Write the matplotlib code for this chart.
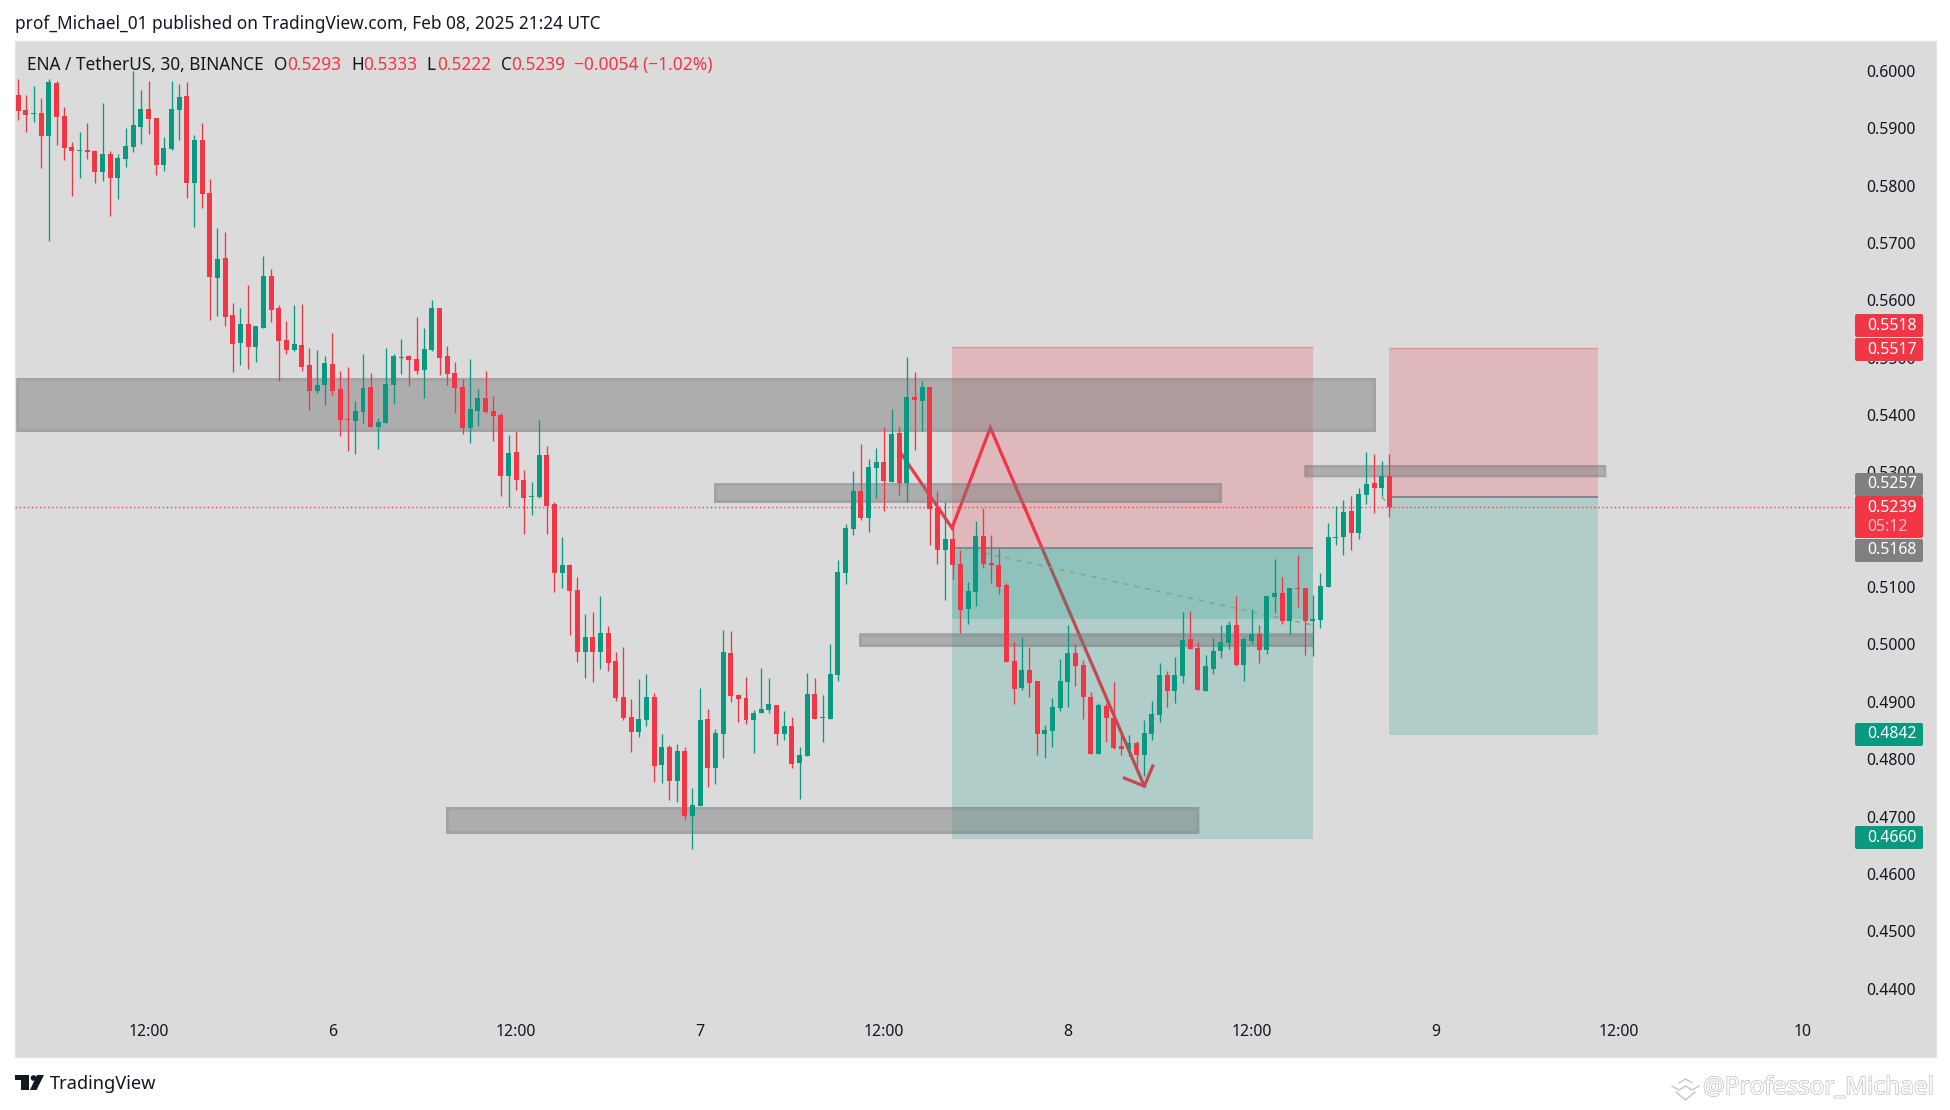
import numpy as np
import matplotlib
matplotlib.use('Agg')
import matplotlib.pyplot as plt
import matplotlib.patheffects as pe
from matplotlib.patches import Rectangle, FancyBboxPatch, Polygon, Circle
from matplotlib.transforms import Affine2D

plt.rcParams['font.family'] = ['Noto Sans', 'DejaVu Sans']

#------------------------------------------------------------------------------
# ENA/USDT 30 min candles (in units of 0.0001)
#------------------------------------------------------------------------------

opens = [5958,5932,5925,5927,5887,5979,5922,5867,5861,5862,5861,5824,5855,5813,5847,5867,5902,5934,5918,5836,
         5864,5932,5956,5805,5880,5787,5639,5674,5575,5526,5559,5519,5552,5643,5587,5531,5514,5522,5487,5442,
         5453,5489,5446,5393,5390,5405,5449,5379,5386,5453,5500,5503,5498,5479,5514,5587,5503,5473,5449,5378,
         5407,5430,5407,5400,5294,5336,5287,5257,5257,5330,5245,5125,5139,5095,4987,5013,4987,5020,4971,4908,
         4874,4847,4868,4908,4790,4821,4762,4814,4701,4718,4870,4785,4844,4985,4912,4907,4868,4880,4886,4894,
         4844,4858,4793,4806,4914,4872,4870,4947,5125,5201,5268,5221,5308,5318,5283,5369,5282,5432,5425,5449,
         5238,5165,5184,5140,5062,5091,5189,5142,5139,5104,4971,4924,4955,4936,4844,4849,4889,4935,4985,4964,
         4908,4809,4893,4872,4823,4818,4828,4807,4844,4877,4947,4919,4945,5010,4994,4919,4957,4989,5003,5034,
         4964,5006,5018,4990,5083,5090,5041,5098,5098,5041,5043,5100,5186,5187,5233,5194,5261,5282,5273,5293]

highs = [5986,5958,5974,5953,5986,5983,5937,5876,5894,5909,5862,5944,5861,5855,5901,6000,5967,5983,5918,5885,
         5983,5977,5981,5888,5909,5812,5726,5719,5595,5587,5627,5555,5677,5655,5592,5564,5592,5594,5517,5514,
         5503,5543,5477,5484,5425,5507,5473,5395,5517,5507,5533,5505,5571,5552,5601,5587,5520,5493,5463,5498,
         5446,5477,5433,5404,5365,5372,5304,5283,5391,5346,5248,5187,5140,5118,5053,5057,5085,5032,4987,4996,
         4905,4940,4948,4915,4844,4825,4826,4821,4750,4924,4887,4853,5025,5023,4914,4943,4886,4959,4942,4894,
         4884,4874,4821,4950,4942,4912,5001,5147,5210,5303,5350,5323,5343,5379,5411,5381,5501,5475,5460,5449,
         5268,5248,5217,5165,5109,5215,5238,5191,5167,5107,5004,5013,4996,4936,4860,4907,4975,5034,5001,4973,
         4917,4898,4898,4935,4842,4842,4832,4868,4901,4968,4954,4978,5057,5058,5004,4982,5011,5034,5041,5085,
         5013,5062,5034,5085,5149,5118,5098,5156,5098,5086,5125,5212,5241,5252,5259,5273,5336,5332,5320,5333]

lows = [5915,5894,5911,5831,5704,5871,5845,5782,5813,5847,5805,5808,5747,5777,5833,5859,5873,5890,5819,5826,
        5862,5880,5779,5728,5761,5566,5573,5555,5475,5487,5480,5493,5552,5562,5460,5507,5512,5477,5409,5439,
        5418,5435,5364,5337,5332,5386,5379,5341,5386,5419,5472,5451,5472,5430,5512,5470,5453,5404,5367,5351,
        5381,5404,5355,5259,5240,5269,5193,5226,5255,5193,5091,5098,5017,4969,4942,4935,4957,4954,4901,4868,
        4813,4839,4858,4760,4758,4729,4725,4694,4643,4718,4751,4757,4802,4900,4865,4861,4811,4880,4880,4825,
        4833,4785,4731,4806,4870,4830,4870,4936,5105,5191,5217,5196,5255,5233,5283,5261,5248,5339,5372,5173,
        5140,5078,5114,5020,5036,5067,5133,5107,5088,4969,4896,4921,4908,4807,4802,4821,4884,4891,4928,4870,
        4809,4809,4830,4818,4807,4806,4781,4771,4833,4865,4891,4898,4933,4992,4921,4919,4948,4976,4992,4963,
        4936,5001,4968,4983,5055,5036,5018,5065,4982,4980,5029,5100,5173,5156,5165,5184,5245,5229,5259,5222]

closes = [5930,5923,5927,5887,5981,5920,5866,5861,5862,5859,5824,5855,5813,5848,5869,5906,5934,5916,5836,5866,
          5934,5955,5805,5880,5786,5641,5672,5571,5524,5559,5519,5555,5643,5583,5529,5514,5524,5484,5442,5453,
          5491,5442,5391,5391,5407,5447,5379,5388,5454,5503,5501,5496,5477,5515,5587,5500,5472,5447,5378,5411,
          5430,5405,5398,5294,5334,5287,5255,5259,5330,5241,5125,5139,5093,4987,5013,4987,5020,4968,4907,4872,
          4847,4870,4908,4788,4821,4762,4814,4701,4720,4868,4785,4846,4987,4910,4905,4868,4880,4887,4896,4844,
          4858,4792,4807,4914,4870,4874,4948,5126,5203,5268,5221,5310,5318,5285,5367,5282,5432,5426,5449,5236,
          5165,5184,5139,5060,5093,5189,5140,5139,5100,4969,4922,4955,4933,4844,4851,4891,4936,4985,4963,4908,
          4809,4894,4872,4819,4818,4828,4807,4846,4879,4947,4919,4947,5008,4992,4921,4963,4989,5004,5034,4964,
          5010,5018,4990,5085,5090,5041,5098,5097,5041,5044,5102,5187,5187,5231,5194,5262,5280,5273,5294,5239]

#------------------------------------------------------------------------------
# axis labels, drawings and price tags
#------------------------------------------------------------------------------

price_ticks = [0.60,0.59,0.58,0.57,0.56,0.55,0.54,0.53,0.52,0.51,0.50,0.49,0.48,0.47,0.46,0.45,0.44]
time_ticks = [17,41,65,89,113,137,161,185,209,233]
time_labels = ['12:00','6','12:00','7','12:00','8','12:00','9','12:00','10']

# support/resistance zones: first bar, last bar, lower price, upper price
zone_x0 = [-0.43,90.8,109.7,55.8,167.9]
zone_x1 = [177.2,157.1,169.1,154.2,207.3]
zone_lo = [0.5371,0.5247,0.4996,0.4670,0.5292]
zone_hi = [0.5465,0.5282,0.5020,0.4717,0.5313]

# the two short positions: first bar, last bar, stop, entry, target
pos_x0 = [121.9,179.0]
pos_x1 = [169.0,206.2]
pos_stop = [0.5518,0.5517]
pos_entry = [0.5168,0.5257]
pos_target = [0.4660,0.4842]
inner_target = 0.5044

# hand drawn path and arrow head
path_x = [115.1,121.9,126.9,147.0]
path_p = [0.5336,0.5203,0.5378,0.4753]
head_x = [144.4,147.0,148.1]
head_p = [0.4767,0.4753,0.4788]

dash_x = [123.3,168.9]
dash_p = [0.5168,0.5034]
dash2_x = [178.0,179.4]
dash2_p = [0.5257,0.5239]

last_price = 0.5239

red = '#F23645'
green = '#089981'
gray = '#808080'
ink = '#131722'
panel = '#DBDBDB'

W, H = 1950, 1110
bar_px = 7.66
first_bar_px = 18.3
p60_px = 71.0
px_per_price = 5735.0
left, right, top, bottom = 15, 1936, 41, 1057

#------------------------------------------------------------------------------

fig = plt.figure(figsize=(W/100,H/100),dpi=100,facecolor='white')
ax = fig.add_axes([left/W,(H-bottom)/H,(right-left)/W,(bottom-top)/H],facecolor=panel)
ax.set_xlim((left-first_bar_px)/bar_px,(right-first_bar_px)/bar_px)
ax.set_ylim(0.6-(bottom-p60_px)/px_per_price,0.6+(p60_px-top)/px_per_price)
for s in ax.spines.values():
    s.set_color('#E4E4E4')
    s.set_linewidth(1)

to_px = Affine2D().scale(1,-1).translate(0,H)

# the drawing lies below the position boxes, they tint it
ax.plot(path_x,path_p,color=red,lw=2.3,zorder=0.5,solid_joinstyle='miter')
ax.plot(head_x,head_p,color=red,lw=2.3,zorder=0.5,solid_joinstyle='miter')

# positions
for i in range(2):
    w = pos_x1[i]-pos_x0[i]
    ax.add_patch(Rectangle((pos_x0[i],pos_entry[i]),w,pos_stop[i]-pos_entry[i],fc=red,alpha=0.21,lw=0,zorder=1))
    ax.add_patch(Rectangle((pos_x0[i],pos_target[i]),w,pos_entry[i]-pos_target[i],fc=green,alpha=0.2,lw=0,zorder=1))
    ax.plot([pos_x0[i],pos_x1[i]],[pos_entry[i]]*2,color='#787B86',lw=1.2,zorder=2,solid_capstyle='butt')
    ax.plot([pos_x0[i],pos_x1[i]],[pos_stop[i]]*2,color=red,alpha=0.3,lw=1,zorder=2,solid_capstyle='butt')
ax.add_patch(Rectangle((pos_x0[0],inner_target),pos_x1[0]-pos_x0[0],pos_entry[0]-inner_target,
                       fc=green,alpha=0.2,lw=0,zorder=1))

# zones: a fill, then a faint 3 px border that stays inside the fill
pad_x = 1.5/bar_px
pad_p = 1.5/px_per_price
for i in range(len(zone_x0)):
    ax.add_patch(Rectangle((zone_x0[i],zone_lo[i]),zone_x1[i]-zone_x0[i],zone_hi[i]-zone_lo[i],
                           facecolor=(0.47,0.47,0.47,0.46),lw=0,zorder=2))
    ax.add_patch(Rectangle((zone_x0[i]+pad_x,zone_lo[i]+pad_p),zone_x1[i]-zone_x0[i]-2*pad_x,
                           zone_hi[i]-zone_lo[i]-2*pad_p,
                           fill=False,edgecolor=(0.42,0.42,0.55,0.16),lw=2.16,zorder=2))

# dashed lines of the positions
ax.plot(dash_x,dash_p,color='#8F9A9A',lw=1,ls=(0,(3.6,4.3)),zorder=2.5)
ax.plot(dash2_x,dash2_p,color='#8F9A9A',lw=1,ls=(0,(3.6,4.3)),zorder=2.5)

# last price line
ax.plot([ax.get_xlim()[0],(1852-first_bar_px)/bar_px],[last_price]*2,color=red,lw=0.95,ls=(0,(1,2.1)),zorder=3)

# candles
x = np.arange(len(opens))
o = np.array(opens)/1e4
hi = np.array(highs)/1e4
lo = np.array(lows)/1e4
c = np.array(closes)/1e4
up = c>=o
cols = np.where(up,green,red)
ax.vlines(x,lo,hi,colors=cols,lw=0.95,zorder=4)
ax.bar(x,np.maximum(np.abs(c-o),1.0/px_per_price),bottom=np.minimum(o,c),width=0.65,color=cols,lw=0,zorder=5)

# axis labels sit inside the panel
ax.set_yticks(price_ticks)
ax.set_yticklabels(['%.4f' % p for p in price_ticks])
ax.yaxis.tick_right()
ax.tick_params(axis='y',length=0,pad=-50,labelsize=11.4,labelcolor=ink)
ax.set_xticks(time_ticks)
ax.set_xticklabels(time_labels)
ax.tick_params(axis='x',length=0,pad=-23.8,labelsize=11.4,labelcolor=ink)

#------------------------------------------------------------------------------
# texts in pixel positions
#------------------------------------------------------------------------------

def put(px,py,s,color=ink,size=12.4,ha='left',**kw):
    return fig.text(px,py,s,color=color,fontsize=size,ha=ha,va='center',transform=to_px,**kw)

put(15,24,'prof_Michael_01 published on TradingView.com, Feb 08, 2025 21:24 UTC')

put(27,65,'ENA / TetherUS, 30, BINANCE')
put(274,65,'O')
put(287,65,'0.5293',color=red)
put(351,65,'H')
put(363,65,'0.5333',color=red)
put(426,65,'L')
put(437,65,'0.5222',color=red)
put(501,65,'C')
put(511,65,'0.5239',color=red)
put(574,65,'\u22120.0054 (\u22121.02%)',color=red,size=12.5)

# price tags
tag_text = ['0.5518','0.5517','0.5257','0.5168','0.4842','0.4660']
tag_col = [red,red,gray,gray,green,green]
tag_y0 = [314,338,473,539,723,826]
tag_y1 = [337,361,496,562,746,849]
for t,col,y0,y1 in zip(tag_text,tag_col,tag_y0,tag_y1):
    fig.add_artist(FancyBboxPatch((1857,y0+2),64,y1-y0-4,boxstyle='round,pad=2,rounding_size=2',
                                  fc=col,ec='none',transform=to_px,zorder=8))
    fig.text(1867,(y0+y1)/2,t,color='white',fontsize=11.4,fontweight='bold',va='center',transform=to_px,zorder=9)
fig.add_artist(FancyBboxPatch((1857,498),64,38,boxstyle='round,pad=2,rounding_size=2',
                              fc=red,ec='none',transform=to_px,zorder=8))
fig.text(1867,508,'0.5239',color='white',fontsize=11.4,fontweight='bold',va='center',transform=to_px,zorder=9)
fig.text(1867,527,'05:12',color='#F8BCC2',fontsize=11.4,fontweight='bold',va='center',transform=to_px,zorder=9)

# TradingView logo
logo = [Polygon([(15,1075),(28.5,1075),(28.5,1090),(20.5,1090),(20.5,1080),(15,1080)],closed=True),
        Circle((33.5,1078),2.8),
        Polygon([(37,1075),(44,1075),(36.5,1090),(30,1090)],closed=True)]
for a in logo:
    a.set(fc=ink,ec='none',transform=to_px)
    fig.add_artist(a)
put(50,1084,'TradingView',size=13.15)

# watermark
wm = put(1703,1088,'@Professor_Michael',color='white',size=17.5)
wm.set_path_effects([pe.withStroke(linewidth=1,foreground='#BDBDBD')])
chev_x = [[1679,1685.5,1692],[1672,1679,1685.5,1692,1699],[1676,1685.5,1695]]
chev_y = [[1083,1079,1083],[1086,1090,1086,1090,1086],[1092,1100,1092]]
for cx,cy in zip(chev_x,chev_y):
    fig.add_artist(plt.Line2D(cx,cy,color='#C0C0C0',lw=0.9,transform=to_px))

fig.savefig('out.png',dpi=100)
